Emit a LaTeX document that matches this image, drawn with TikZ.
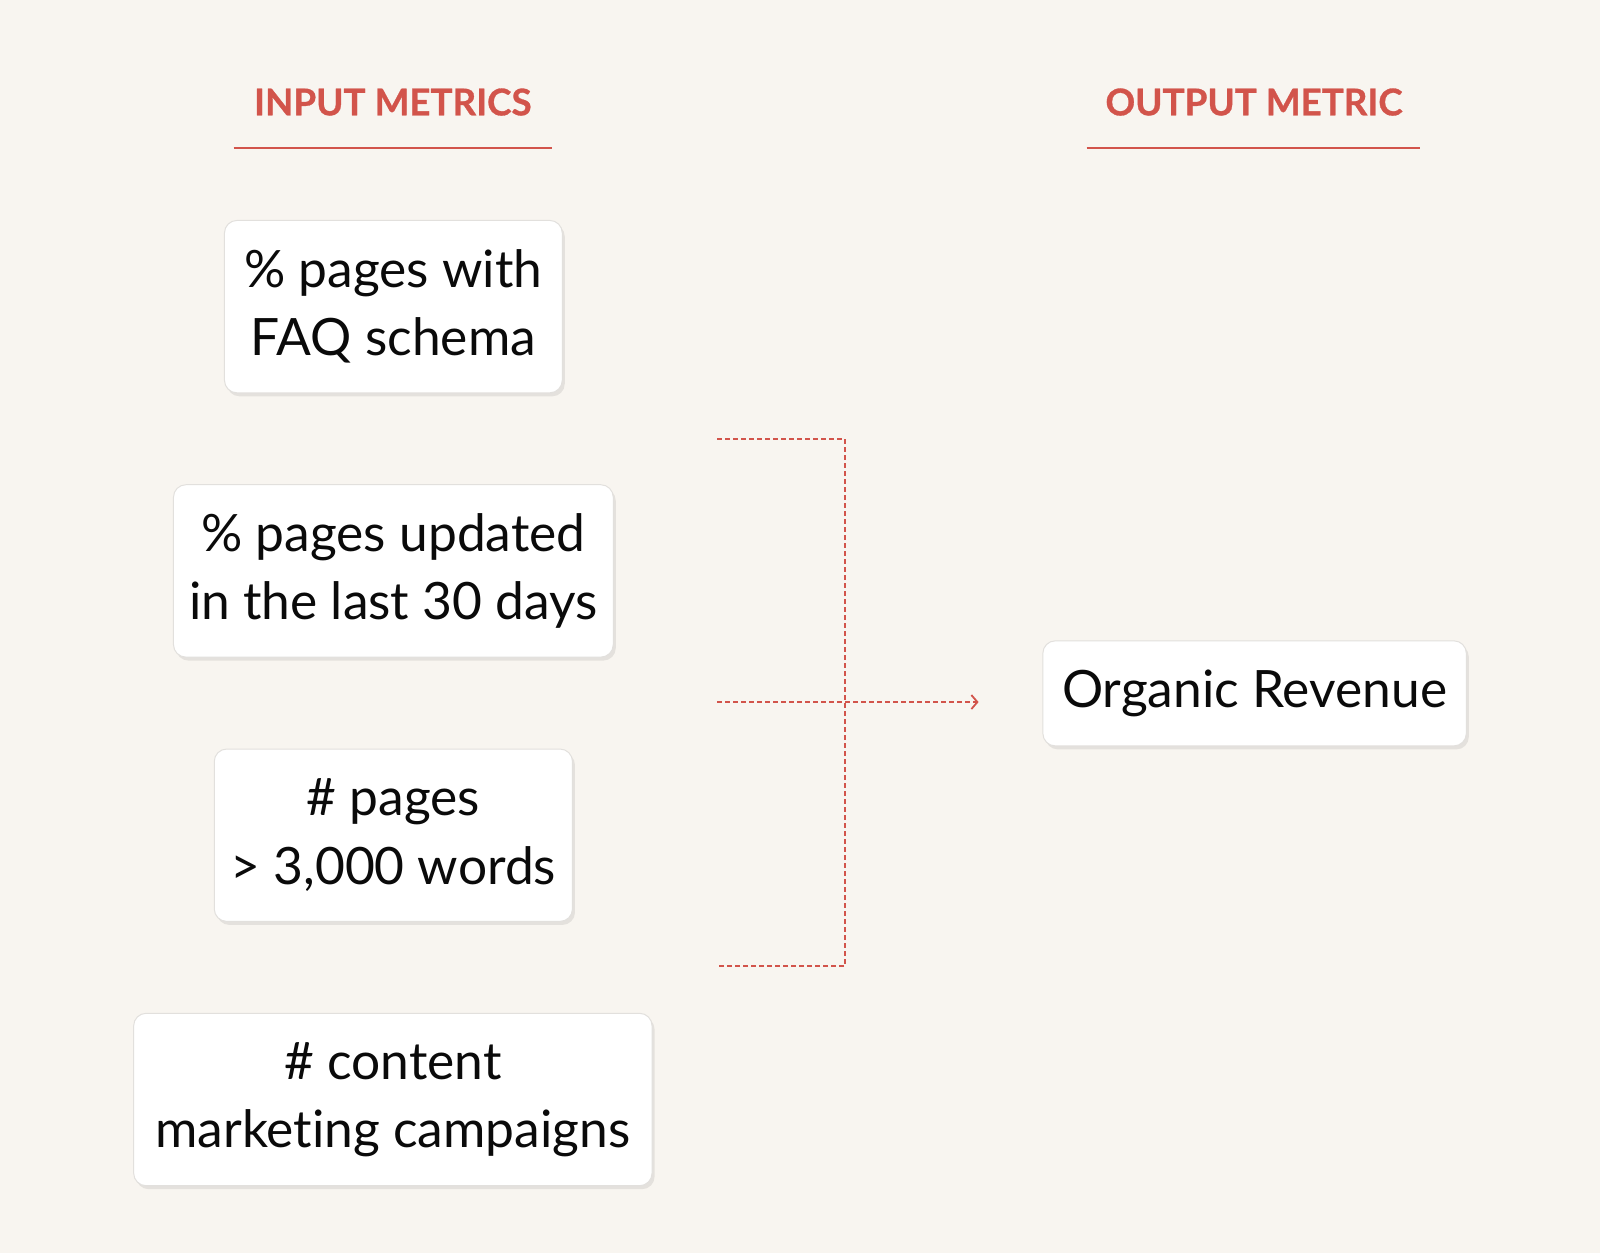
\documentclass[tikz,border=0pt]{standalone}
\usepackage{fontspec}
\setmainfont[Ligatures=NoCommon]{Lato}
\usetikzlibrary{arrows.meta,shadows}
\definecolor{bg}{HTML}{F8F5F0}
\definecolor{accent}{HTML}{D2544B}
\definecolor{boxline}{HTML}{E2E0DD}
\definecolor{ink}{HTML}{0A0A0A}
\begin{document}
\begin{tikzpicture}[x=1.020408pt,y=-1.020408pt,
  metric/.style={draw=boxline, line width=1pt, fill=white, rounded corners=12.5pt,
    align=center, text=ink, font=\fontsize{51.5}{68.4}\selectfont, inner sep=0pt,
    drop shadow={shadow xshift=2.5pt, shadow yshift=-3.5pt, opacity=0.08, fill=black}},
  header/.style={text=accent, font=\fontsize{36.8}{42}\selectfont\bfseries\addfontfeature{FakeBold=0.8}, inner sep=0pt},
  rule/.style={draw=accent, line width=2pt},
  conn/.style={draw=accent, line width=2pt, dash pattern=on 5pt off 3pt}]
\fill[bg] (0,0) rectangle (1568,1228);
\useasboundingbox (0,0) rectangle (1568,1228);
% headers
\node[header] (hin) at (385,100) {INPUT METRICS};
\node[header] (hout) at (1229,100) {OUTPUT METRIC};
\draw[rule] (229,145) -- (541,145);
\draw[rule] (1065,145) -- (1392,145);
% input boxes
\node[metric, minimum width=337.8pt, minimum height=172.4pt] (m1) at (385.5,300.5) {\% pages with\\FAQ schema};
\node[metric, minimum width=439.8pt, minimum height=172.4pt] (m2) at (385.5,559.5) {\% pages updated\\in the last 30 days};
\node[metric, minimum width=358.2pt, minimum height=172.4pt] (m3) at (385.5,818.5) {\# pages\\> 3,000 words};
\node[metric, minimum width=518.4pt, minimum height=172.4pt] (m4) at (385,1077.5) {\# content\\marketing campaigns};
% output box
\node[metric, minimum width=423.5pt, minimum height=105.1pt] (out) at (1229.5,679.5) {Organic Revenue};
% connector
\coordinate (t1) at (703,430);
\coordinate (c1) at (828,430);
\coordinate (c2) at (828,947);
\coordinate (b1) at (703,947);
\coordinate (a1) at (703,688);
\coordinate (a2) at (959,688);
\draw[conn] (t1) -- (c1) -- (c2) -- (b1);
\draw[conn, -{Straight Barb[length=6pt,width=14pt,line width=1.8pt]}] (a1) -- (a2);
\end{tikzpicture}
\end{document}
